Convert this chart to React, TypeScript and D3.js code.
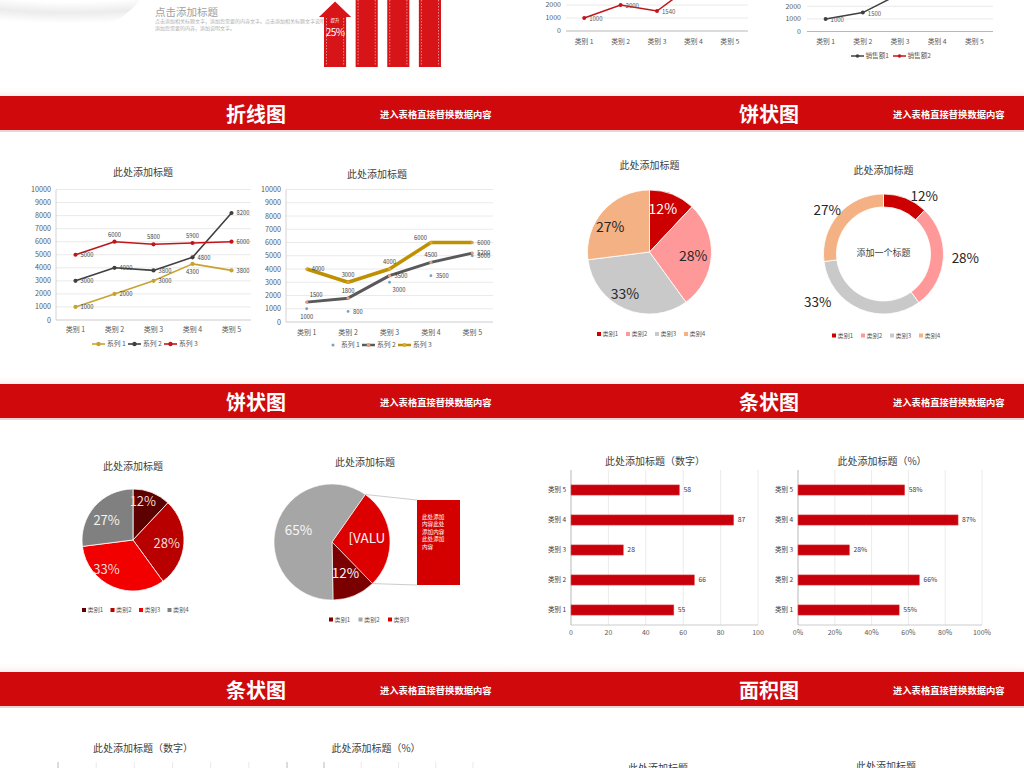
import React from 'react';
import * as d3 from 'd3';

const FONT = '"Microsoft YaHei","Noto Sans CJK SC","Noto Sans",sans-serif';
const HEADER_RED = '#d00a0c';

// ---------- data ----------
const categories = ['类别 1', '类别 2', '类别 3', '类别 4', '类别 5'];
const valueTicks = [0, 1000, 2000, 3000, 4000, 5000, 6000, 7000, 8000, 9000, 10000];
const seriesNames = ['系列 1', '系列 2', '系列 3'];

const lineASeries1 = [1000, 2000, 3000, 4300, 3800];
const lineASeries2 = [3000, 4000, 3800, 4800, 8200];
const lineASeries3 = [5000, 6000, 5800, 5900, 6000];

const lineBSeries1 = [1000, 800, 3000, 3500, 5000];
const lineBSeries2 = [1500, 1800, 3500, 4500, 5200];
const lineBSeries3 = [4000, 3000, 4000, 6000, 6000];

const topTicks = [0, 1000, 2000];
const topSalesA = [1000, 2000, 1540, 3600];
const topSalesB = [1000, 1500, 3000];
const salesNames = ['销售额1', '销售额2'];

const pieCategories = ['类别1', '类别2', '类别3', '类别4'];
const pieValues = [12, 28, 33, 27];

const pieOfPieCategories = ['类别1', '类别2', '类别3'];
const pieOfPieValues = [12, 60, 28];
const pieOfPieLabels = ['12%', '65%', '[VALU'];
const pieOfPieBoxText = ['此处添加', '内容此处', '添加内容', '此处添加', '内容'];

const barValues = [55, 66, 28, 87, 58];
const barTicks = [0, 20, 40, 60, 80, 100];
const barPctValues = [0.55, 0.66, 0.28, 0.87, 0.58];
const barPctTicks = [0, 0.2, 0.4, 0.6, 0.8, 1];

const sectionTitles = [['折线图', '饼状图'], ['饼状图', '条状图'], ['条状图', '面积图']];
const headerSubtitle = '进入表格直接替换数据内容';
const chartTitle = '此处添加标题';

// ---------- helpers ----------
function labelXY(px: number, py: number, pos: string): [number, number, string] {
  switch (pos) {
    case 'r': return [px + 5, py + 2.2, 'start'];
    case 'l': return [px - 4, py - 3, 'end'];
    case 't': return [px, py - 5, 'middle'];
    case 'b': return [px, py + 10, 'middle'];
    case 'tr': return [px + 3, py - 5, 'start'];
    case 'br': return [px + 3, py + 10, 'start'];
    default: return [px + 5, py + 2, 'start'];
  }
}

type LSeries = {
  name: string; values: number[]; color: string; width: number; markerR: number;
  markerColor: string; line: boolean; labelPos: string[]; legend: 'line' | 'dot';
};

function LineChart(p: {
  x0: number; x1: number; yTop: number; yBottom: number; series: LSeries[]; titleX: number; titleY: number;
  legendY: number; legendX: number; legendStep: number; tickX: number; catY: number;
}) {
  const x = d3.scaleBand<string>().domain(categories).range([p.x0, p.x1]);
  const y = d3.scaleLinear().domain([0, 10000]).range([p.yBottom, p.yTop]);
  const px = (i: number) => (x(categories[i]) as number) + x.bandwidth() / 2;
  const line = d3.line<number>().x((_, i) => px(i)).y((v) => y(v));
  return (
    <g>
      <text x={p.titleX} y={p.titleY} textAnchor="middle" dominantBaseline="middle" fontSize={10} fill="#404040">{chartTitle}</text>
      {valueTicks.map((t) => (
        <g key={t}>
          {t > 0 && <line x1={p.x0} x2={p.x1} y1={y(t)} y2={y(t)} stroke="#e4e4e4" strokeWidth={0.8} />}
          <text x={p.tickX} y={y(t)} dy="0.35em" textAnchor="end" fontSize={7.2} fill="#595959">{t}</text>
        </g>
      ))}
      <line x1={p.x0} x2={p.x0} y1={p.yTop} y2={p.yBottom} stroke="#c8c8c8" strokeWidth={0.8} />
      <line x1={p.x0} x2={p.x1} y1={p.yBottom} y2={p.yBottom} stroke="#bfbfbf" strokeWidth={0.8} />
      {categories.map((c, i) => (
        <text key={c} x={px(i)} y={p.catY} textAnchor="middle" dominantBaseline="middle" fontSize={7} fill="#595959">{c}</text>
      ))}
      {p.series.map((s) => (
        <g key={s.name}>
          {s.line && <path d={line(s.values) as string} fill="none" stroke={s.color} strokeWidth={s.width} strokeLinejoin="round" />}
          {s.values.map((v, i) => <circle key={i} cx={px(i)} cy={y(v)} r={s.markerR} fill={s.markerColor} />)}
        </g>
      ))}
      {p.series.map((s) => (
        <g key={s.name + 'lbl'}>
          {s.values.map((v, i) => {
            const [lx, ly, anchor] = labelXY(px(i), y(v), s.labelPos[i]);
            return <text key={i} x={lx} y={ly} textAnchor={anchor as any} fontSize={5.8} fill="#404040">{v}</text>;
          })}
        </g>
      ))}
      {p.series.map((s, i) => {
        const lx = p.legendX + i * p.legendStep;
        return (
          <g key={s.name + 'leg'}>
            {s.legend === 'line' ? (
              <>
                <line x1={lx} x2={lx + 13} y1={p.legendY} y2={p.legendY} stroke={s.color} strokeWidth={Math.min(s.width, 2.5)} />
                <circle cx={lx + 6.5} cy={p.legendY} r={Math.min(2.2, s.markerR + 0.3)} fill={s.markerColor} />
              </>
            ) : (
              <circle cx={lx + 7} cy={p.legendY} r={1.5} fill={s.markerColor} />
            )}
            <text x={lx + 15} y={p.legendY} dy="0.35em" fontSize={6.8} fill="#595959">{s.name}</text>
          </g>
        );
      })}
    </g>
  );
}

function TopLine(p: {
  x0: number; x1: number; y0: number; yPer1000: number; values: number[]; color: string; tickX: number; catY: number;
}) {
  const x = d3.scaleBand<string>().domain(categories).range([p.x0, p.x1]);
  const y = d3.scaleLinear().domain([0, 1000]).range([p.y0, p.y0 - p.yPer1000]);
  const px = (i: number) => (x(categories[i]) as number) + x.bandwidth() / 2;
  const line = d3.line<number>().x((_, i) => px(i)).y((v) => y(v));
  return (
    <g>
      {topTicks.map((t) => (
        <g key={t}>
          {t > 0 && <line x1={p.x0} x2={p.x1} y1={y(t)} y2={y(t)} stroke="#e4e4e4" strokeWidth={0.8} />}
          <text x={p.tickX} y={y(t)} dy="0.35em" textAnchor="end" fontSize={7} fill="#595959">{t}</text>
        </g>
      ))}
      <line x1={p.x0} x2={p.x1} y1={p.y0} y2={p.y0} stroke="#a6a6a6" strokeWidth={0.8} />
      {categories.map((c, i) => (
        <text key={c} x={px(i)} y={p.catY} textAnchor="middle" dominantBaseline="middle" fontSize={6.8} fill="#595959">{c}</text>
      ))}
      <path d={line(p.values) as string} fill="none" stroke={p.color} strokeWidth={1.5} />
      {p.values.map((v, i) => <circle key={i} cx={px(i)} cy={y(v)} r={2} fill={p.color} />)}
      {p.values.map((v, i) => (
        <text key={'l' + i} x={px(i) + 5} y={y(v) + 3} fontSize={6} fill="#595959">{v}</text>
      ))}
    </g>
  );
}

function PieChart(p: {
  cx: number; cy: number; r: number; inner: number; values: number[]; colors: string[]; labels: string[];
  labelRadii: number[]; labelShift: number[]; labelColors: string[]; fontSize: number; titleY: number; legendX: number; legendY: number;
  legendStep: number; legendNames: string[]; centerText?: string;
}) {
  const pie = d3.pie<number>().sort(null).value((i) => p.values[i]);
  const arcs = pie(p.values.map((_, i) => i));
  const arc = d3.arc<d3.PieArcDatum<number>>().innerRadius(p.inner).outerRadius(p.r);
  return (
    <g>
      <text x={p.cx} y={p.titleY} textAnchor="middle" dominantBaseline="middle" fontSize={10} fill="#404040">{chartTitle}</text>
      <g transform={`translate(${p.cx},${p.cy})`}>
        {arcs.map((a) => (
          <path key={a.data} d={arc(a) as string} fill={p.colors[a.data]} stroke="#fff" strokeWidth={0.8} />
        ))}
        {arcs.map((a) => {
          const mid = (a.startAngle + a.endAngle) / 2 + (p.labelShift[a.data] * Math.PI) / 180;
          const rr = p.labelRadii[a.data];
          return (
            <text key={'t' + a.data} x={rr * Math.sin(mid)} y={-rr * Math.cos(mid)} textAnchor="middle" dominantBaseline="middle"
              fontSize={p.fontSize} fill={p.labelColors[a.data]}>
              {p.labels[a.data]}
            </text>
          );
        })}
        {p.centerText && (
          <text x={0} y={0} textAnchor="middle" dominantBaseline="middle" fontSize={9} fill="#404040">{p.centerText}</text>
        )}
      </g>
      {p.legendNames.map((n, i) => (
        <g key={n}>
          <rect x={p.legendX + i * p.legendStep} y={p.legendY - 2} width={4} height={4} fill={p.colors[i]} />
          <text x={p.legendX + i * p.legendStep + 5.5} y={p.legendY} dy="0.35em" fontSize={6.2} fill="#595959">{n}</text>
        </g>
      ))}
    </g>
  );
}

function BarChart(p: {
  x0: number; x1: number; yTop: number; yBottom: number; values: number[]; ticks: number[];
  fmt: (v: number) => string; title: string; titleX: number; titleY: number;
}) {
  const x = d3.scaleLinear().domain([0, p.ticks[p.ticks.length - 1]]).range([p.x0, p.x1]);
  const y = d3.scaleBand<string>().domain([...categories].reverse()).range([p.yTop, p.yBottom]).paddingInner(0.66).paddingOuter(0.33);
  return (
    <g>
      <text x={p.titleX} y={p.titleY} textAnchor="middle" dominantBaseline="middle" fontSize={10} fill="#404040">{p.title}</text>
      {p.ticks.map((t) => (
        <g key={t}>
          {t > 0 && <line x1={x(t)} x2={x(t)} y1={p.yTop - 5} y2={p.yBottom} stroke="#e6e6e6" strokeWidth={0.8} />}
          <text x={x(t)} y={p.yBottom + 10} textAnchor="middle" fontSize={7} fill="#595959">{p.fmt(t)}</text>
        </g>
      ))}
      <line x1={p.x0} x2={p.x0} y1={p.yTop - 5} y2={p.yBottom} stroke="#a6a6a6" strokeWidth={0.8} />
      <line x1={p.x0} x2={p.x1} y1={p.yBottom} y2={p.yBottom} stroke="#bfbfbf" strokeWidth={0.8} />
      {categories.map((c, i) => {
        const by = y(c) as number;
        const v = p.values[i];
        return (
          <g key={c}>
            <rect x={p.x0} y={by} width={x(v) - p.x0} height={y.bandwidth()} fill="#c8000c" stroke="#e45a5a" strokeWidth={0.5} />
            <text x={p.x0 - 5} y={by + y.bandwidth() / 2} dy="0.35em" textAnchor="end" fontSize={6.5} fill="#404040">{c}</text>
            <text x={x(v) + 4} y={by + y.bandwidth() / 2} dy="0.35em" fontSize={6.8} fill="#404040">{p.fmt(v)}</text>
          </g>
        );
      })}
    </g>
  );
}

function Header({ y, titles }: { y: number; titles: string[] }) {
  return (
    <g>
      <defs>
        <linearGradient id={`fade${y}`} x1="0" y1="0" x2="0" y2="1">
          <stop offset="0" stopColor="#fff" stopOpacity={0} />
          <stop offset="1" stopColor="#fbeeee" stopOpacity={1} />
        </linearGradient>
      </defs>
      <rect x={0} y={y - 10} width={1024} height={10} fill={`url(#fade${y})`} />
      <rect x={0} y={y} width={1024} height={34} fill={HEADER_RED} />
      <rect x={0} y={y + 34} width={1024} height={2} fill="#f3d2d2" />
      {titles.map((t, i) => (
        <g key={t + i}>
          <text x={256 + i * 513} y={y + 17} textAnchor="middle" dominantBaseline="central" fontSize={20} fontWeight="bold" fill="#fff">{t}</text>
          <text x={380 + i * 513} y={y + 18} dominantBaseline="central" fontSize={9.3} fontWeight="bold" fill="#fff">{headerSubtitle}</text>
        </g>
      ))}
    </g>
  );
}

function TopDecor() {
  const xb = d3.scaleBand<string>().domain(['arrow', 'b1', 'b2', 'b3']).range([324, 441]).paddingInner(0.3);
  const bw = xb.bandwidth();
  const ax = xb('arrow') as number;
  return (
    <g>
      <defs>
        <radialGradient id="swoosh" cx="0.5" cy="-0.9" r="1.6">
          <stop offset="0.6" stopColor="#ffffff" />
          <stop offset="0.8" stopColor="#ececec" />
          <stop offset="1" stopColor="#ffffff" />
        </radialGradient>
      </defs>
      <path d="M0,0 L140,0 Q110,38 45,33 Q15,31 0,24 Z" fill="url(#swoosh)" />
      <text x={155} y={13} dominantBaseline="middle" fontSize={10.5} fill="#a0a0a0">点击添加标题</text>
      <text x={155} y={22} dominantBaseline="middle" fontSize={5} fill="#b0b0b0">点击添加相关标题文字，添加您需要的内容文字。点击添加相关标题文字说明</text>
      <text x={155} y={29} dominantBaseline="middle" fontSize={5} fill="#b0b0b0">添加您需要的内容，添加说明文字。</text>
      {['b1', 'b2', 'b3'].map((k) => {
        const bx = xb(k) as number;
        return (
          <g key={k}>
            <rect x={bx} y={-2} width={bw} height={69} fill="#d71518" />
            <line x1={bx + 2.5} x2={bx + 2.5} y1={0} y2={65} stroke="#fff" strokeWidth={0.5} strokeDasharray="1.5,1.5" />
            <line x1={bx + bw - 2.5} x2={bx + bw - 2.5} y1={0} y2={65} stroke="#fff" strokeWidth={0.5} strokeDasharray="1.5,1.5" />
          </g>
        );
      })}
      <path d={`M${ax - 5},17 L${ax + bw / 2},1.5 L${ax + bw + 5},17 L${ax + bw},17 L${ax + bw},67 L${ax},67 L${ax},17 Z`} fill="#d71518" />
      <line x1={ax + 2.5} x2={ax + 2.5} y1={18} y2={65} stroke="#fff" strokeWidth={0.5} strokeDasharray="1.5,1.5" />
      <line x1={ax + bw - 2.5} x2={ax + bw - 2.5} y1={18} y2={65} stroke="#fff" strokeWidth={0.5} strokeDasharray="1.5,1.5" />
      <text x={ax + bw / 2} y={20.5} textAnchor="middle" dominantBaseline="middle" fontSize={4.5} fill="#fff">提升</text>
      <text x={ax + bw / 2} y={33} textAnchor="middle" dominantBaseline="middle" fontSize={10} fill="#fff" style={{ letterSpacing: '-0.5px' }}>25%</text>
    </g>
  );
}

export default function App() {
  const seriesA: LSeries[] = [
    { name: seriesNames[0], values: lineASeries1, color: '#c8a22f', width: 1.6, markerR: 2.1, markerColor: '#c8a22f', line: true, labelPos: ['r', 'r', 'r', 'b', 'r'], legend: 'line' },
    { name: seriesNames[1], values: lineASeries2, color: '#404040', width: 1.6, markerR: 2.1, markerColor: '#404040', line: true, labelPos: ['r', 'r', 'r', 'r', 'r'], legend: 'line' },
    { name: seriesNames[2], values: lineASeries3, color: '#c0161b', width: 1.6, markerR: 2.1, markerColor: '#c0161b', line: true, labelPos: ['r', 't', 't', 't', 'r'], legend: 'line' },
  ];
  const seriesB: LSeries[] = [
    { name: seriesNames[0], values: lineBSeries1, color: '#7ea1b9', width: 0, markerR: 1.4, markerColor: '#7ea1b9', line: false, labelPos: ['b', 'r', 'br', 'r', 'r'], legend: 'dot' },
    { name: seriesNames[1], values: lineBSeries2, color: '#595959', width: 3, markerR: 1.6, markerColor: '#e49a7c', line: true, labelPos: ['tr', 't', 'r', 't', 'r'], legend: 'line' },
    { name: seriesNames[2], values: lineBSeries3, color: '#bf9000', width: 3.5, markerR: 1.6, markerColor: '#d9a441', line: true, labelPos: ['r', 't', 't', 'l', 'r'], legend: 'line' },
  ];
  const pieColors = ['#cc0000', '#ff9999', '#c9c9c9', '#f4b183'];
  const pie3Colors = ['#5c0000', '#b80000', '#f20000', '#808080'];
  const popColors = ['#7a0000', '#a6a6a6', '#dd0000'];

  // pie-of-pie geometry
  const popCx = 332, popCy = 542, popR = 58;
  const popStart = (35 * Math.PI) / 180;
  const popPie = d3.pie<number>().sort(null).value((i) => pieOfPieValues[i]).startAngle(popStart).endAngle(popStart + Math.PI * 2);
  const popArcs = popPie([2, 0, 1]);
  const redArc = popArcs[0];
  const edge = (ang: number): [number, number] => [popCx + popR * Math.sin(ang), popCy - popR * Math.cos(ang)];
  const [e1x, e1y] = edge(redArc.startAngle);
  const [e2x, e2y] = edge(redArc.endAngle);
  const boxX = 417, boxY = 500, boxW = 43, boxH = 85;

  // section-3 partial charts
  const s3a = d3.scaleLinear().domain([0, 120]).range([58, 287]);
  const s3b = d3.scaleLinear().domain([0, 0.8]).range([324, 473]);

  return (
    <div style={{ position: 'absolute', left: 0, top: 0, width: 1024, height: 768, overflow: 'hidden', background: '#fff' }}>
      <svg width={1024} height={768} style={{ display: 'block', fontFamily: FONT }}>
        <rect x={0} y={0} width={1024} height={768} fill="#fff" />
        <TopDecor />
        <TopLine x0={566} x1={748} y0={31} yPer1000={13} values={topSalesA} color="#c0161b" tickX={561} catY={42} />
        <TopLine x0={807} x1={993} y0={31.5} yPer1000={12.6} values={topSalesB} color="#404040" tickX={801} catY={42} />
        {salesNames.map((n, i) => {
          const lx = 851 + i * 42;
          const c = i === 0 ? '#404040' : '#c0161b';
          return (
            <g key={n}>
              <line x1={lx} x2={lx + 13} y1={56} y2={56} stroke={c} strokeWidth={1.5} />
              <circle cx={lx + 6.5} cy={56} r={1.8} fill={c} />
              <text x={lx + 14.5} y={56} dy="0.35em" fontSize={6.6} fill="#595959">{n}</text>
            </g>
          );
        })}

        <Header y={96} titles={sectionTitles[0]} />
        <Header y={384} titles={sectionTitles[1]} />
        <Header y={672} titles={sectionTitles[2]} />

        <LineChart x0={56} x1={251} yTop={189.5} yBottom={320} series={seriesA} titleX={143} titleY={173}
          legendY={344} legendX={92} legendStep={36} tickX={51} catY={330} />
        <LineChart x0={286} x1={493} yTop={189.5} yBottom={322} series={seriesB} titleX={377} titleY={175}
          legendY={345} legendX={326} legendStep={36} tickX={281} catY={333} />

        <PieChart cx={649.5} cy={252} r={62} inner={0} values={pieValues} colors={pieColors}
          labels={pieValues.map((v) => v + '%')} labelRadii={[44, 44, 50, 46]} labelShift={[-4, 3, 6, -10]}
          labelColors={['#fff', '#262626', '#262626', '#262626']}
          fontSize={14} titleY={166} legendX={597} legendY={334} legendStep={29} legendNames={pieCategories} />
        <PieChart cx={883.5} cy={254} r={60} inner={47} values={pieValues} colors={pieColors}
          labels={pieValues.map((v) => v + '%')} labelRadii={[70, 82, 82, 71]} labelShift={[14, 0, 30, -4]}
          labelColors={['#262626', '#262626', '#262626', '#262626']}
          fontSize={13.5} titleY={171} legendX={832} legendY={335.5} legendStep={29} legendNames={pieCategories}
          centerText="添加一个标题" />

        <PieChart cx={133} cy={540} r={51} inner={0} values={pieValues} colors={pie3Colors}
          labels={pieValues.map((v) => v + '%')} labelRadii={[39, 34, 40, 32]} labelShift={[-7, 4, 18, -7]}
          labelColors={['#f4dede', '#f4dede', '#f4dede', '#f4f4f4']}
          fontSize={13} titleY={467} legendX={82} legendY={610} legendStep={28.5} legendNames={pieCategories} />

        {/* pie of pie */}
        <g>
          <text x={365} y={463} textAnchor="middle" dominantBaseline="middle" fontSize={10} fill="#404040">{chartTitle}</text>
          <line x1={e1x} y1={e1y} x2={boxX} y2={boxY} stroke="#bfbfbf" strokeWidth={0.8} />
          <line x1={e2x} y1={e2y} x2={boxX} y2={boxY + boxH} stroke="#bfbfbf" strokeWidth={0.8} />
          <g transform={`translate(${popCx},${popCy})`}>
            {popArcs.map((a) => (
              <path key={a.data} d={d3.arc<d3.PieArcDatum<number>>().innerRadius(0).outerRadius(popR)(a) as string}
                fill={popColors[a.data]} stroke="#fff" strokeWidth={0.6} />
            ))}
            {popArcs.map((a) => {
              const [lx, ly] = d3.arc<d3.PieArcDatum<number>>().innerRadius(35).outerRadius(35).centroid(a);
              return (
                <text key={'t' + a.data} x={lx} y={ly} textAnchor="middle" dominantBaseline="middle" fontSize={13.5} fill="#f6f6f6">
                  {pieOfPieLabels[a.data]}
                </text>
              );
            })}
          </g>
          <rect x={boxX} y={boxY} width={boxW} height={boxH} fill="#d40000" />
          {pieOfPieBoxText.map((t, i) => (
            <text key={i} x={boxX + 5} y={boxY + 17} dy={i * 7.5} dominantBaseline="middle" fontSize={5.6} fill="#fff">{t}</text>
          ))}
          {pieOfPieCategories.map((n, i) => (
            <g key={n}>
              <rect x={329 + i * 29.5} y={617.5} width={4} height={4} fill={popColors[i]} />
              <text x={334.5 + i * 29.5} y={619.5} dy="0.35em" fontSize={6.2} fill="#595959">{n}</text>
            </g>
          ))}
        </g>

        <BarChart x0={571} x1={758} yTop={475} yBottom={625} values={barValues} ticks={barTicks}
          fmt={(v) => String(v)} title="此处添加标题（数字）" titleX={655} titleY={462} />
        <BarChart x0={798} x1={982} yTop={475} yBottom={625} values={barPctValues} ticks={barPctTicks}
          fmt={(v) => Math.round(v * 100) + '%'} title="此处添加标题（%）" titleX={882} titleY={462} />

        {/* section 3 (cut off) */}
        <text x={143} y={749} textAnchor="middle" dominantBaseline="middle" fontSize={10} fill="#404040">此处添加标题（数字）</text>
        <text x={376} y={749} textAnchor="middle" dominantBaseline="middle" fontSize={10} fill="#404040">此处添加标题（%）</text>
        {s3a.ticks(6).map((t) => (
          <line key={'a' + t} x1={s3a(t)} x2={s3a(t)} y1={762} y2={768} stroke={t === 0 || t === 120 ? '#a6a6a6' : '#e3e3e3'} strokeWidth={0.8} />
        ))}
        {s3b.ticks(4).map((t) => (
          <line key={'b' + t} x1={s3b(t)} x2={s3b(t)} y1={762} y2={768} stroke={t === 0 ? '#a6a6a6' : '#e3e3e3'} strokeWidth={0.8} />
        ))}
        <text x={658} y={772} textAnchor="middle" fontSize={10} fill="#404040">{chartTitle}</text>
        <text x={886} y={770} textAnchor="middle" fontSize={10} fill="#404040">{chartTitle}</text>
      </svg>
    </div>
  );
}
